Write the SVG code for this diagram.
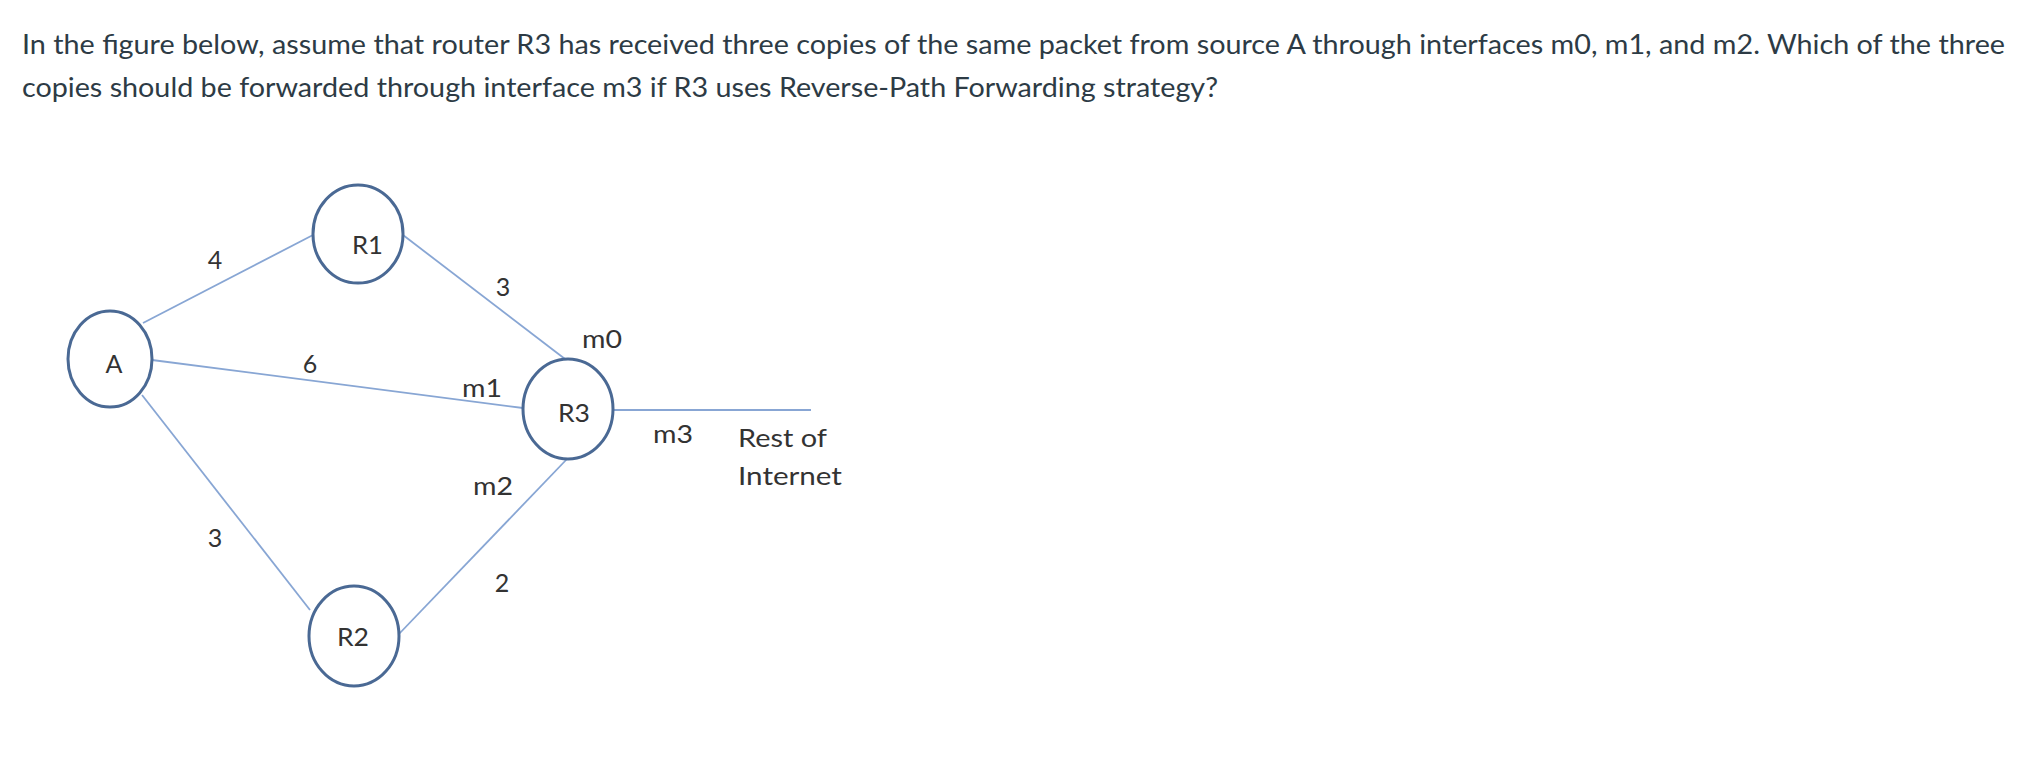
<svg xmlns="http://www.w3.org/2000/svg" width="2034" height="778" viewBox="0 0 2034 778">
<style>
.q{font-family:Lato,"Open Sans","Liberation Sans",sans-serif;font-size:26px;fill:#2d3b45}
.node{fill:#fff;stroke:#4a6994;stroke-width:3}
.lbl{font-family:Lato,"Open Sans","Liberation Sans",sans-serif;font-size:25px;fill:#333}
.edge{stroke:#88a6d4;stroke-width:1.8;fill:none}
</style>
<rect width="2034" height="778" fill="#fff"/>
<text class="q" x="22" y="54" textLength="1983" lengthAdjust="spacingAndGlyphs">In the figure below, assume that router R3 has received three copies of the same packet from source A through interfaces m0, m1, and m2. Which of the three</text>
<text class="q" x="22" y="97" textLength="1196" lengthAdjust="spacingAndGlyphs">copies should be forwarded through interface m3 if R3 uses Reverse-Path Forwarding strategy?</text>
<g id="connectors">
<line class="edge" x1="143" y1="323" x2="313" y2="235"/>
<line class="edge" x1="403" y1="235" x2="565" y2="359"/>
<line class="edge" x1="152" y1="360" x2="523" y2="408"/>
<line class="edge" x1="142" y1="395" x2="310" y2="610"/>
<line class="edge" x1="398" y1="635" x2="567" y2="459"/>
<line class="edge" x1="613" y1="410" x2="811" y2="410"/>
</g>
<g id="edge-labels">
<text class="lbl" x="215" y="269" text-anchor="middle">4</text>
<text class="lbl" x="310" y="373" text-anchor="middle">6</text>
<text class="lbl" x="215" y="547" text-anchor="middle">3</text>
<text class="lbl" x="503" y="296" text-anchor="middle">3</text>
<text class="lbl" x="502" y="592" text-anchor="middle">2</text>
<text class="lbl" x="582" y="348" textLength="40" lengthAdjust="spacingAndGlyphs">m0</text>
<text class="lbl" x="462" y="397" textLength="40" lengthAdjust="spacingAndGlyphs">m1</text>
<text class="lbl" x="473" y="495" textLength="40" lengthAdjust="spacingAndGlyphs">m2</text>
<text class="lbl" x="653" y="443" textLength="40" lengthAdjust="spacingAndGlyphs">m3</text>
<text class="lbl" x="738" y="447" textLength="89" lengthAdjust="spacingAndGlyphs">Rest of</text>
<text class="lbl" x="738" y="485" textLength="104" lengthAdjust="spacingAndGlyphs">Internet</text>
</g>
<g id="node-A">
<ellipse class="node" cx="110" cy="359" rx="42" ry="48"/>
<text class="lbl" x="114" y="373" text-anchor="middle">A</text>
</g>
<g id="node-R1">
<ellipse class="node" cx="358" cy="234" rx="45" ry="49"/>
<text class="lbl" x="352" y="254" textLength="31" lengthAdjust="spacingAndGlyphs">R1</text>
</g>
<g id="node-R2">
<ellipse class="node" cx="354" cy="636" rx="45" ry="50"/>
<text class="lbl" x="337" y="646" textLength="32" lengthAdjust="spacingAndGlyphs">R2</text>
</g>
<g id="node-R3">
<ellipse class="node" cx="568" cy="409" rx="45" ry="50"/>
<text class="lbl" x="558" y="422" textLength="32" lengthAdjust="spacingAndGlyphs">R3</text>
</g>
</svg>
